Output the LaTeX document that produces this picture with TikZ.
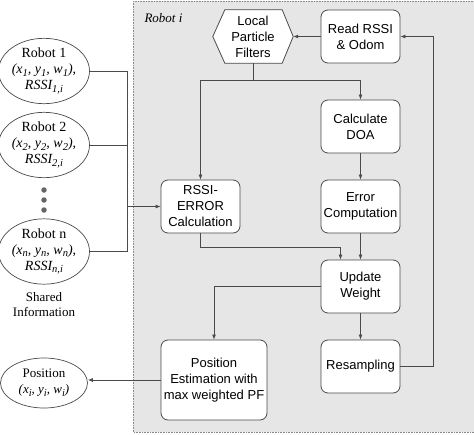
\documentclass[tikz,border=0pt]{standalone}
\usepackage{fontspec}
\setmainfont{Liberation Serif}
\newfontfamily\boxfont{Liberation Sans}
\usetikzlibrary{shapes.geometric,arrows.meta,calc}
\definecolor{panelfill}{HTML}{E6E6E6}
\definecolor{panelline}{HTML}{8A8A8A}
\definecolor{lineclr}{HTML}{4A4A4A}
\newcommand\mysb[1]{\raisebox{-0.45ex}{\fontsize{10.5}{10.5}\selectfont #1}}
\tikzset{
  stepbox/.style={draw=lineclr, fill=white, rounded corners=7pt, line width=0.8pt,
    minimum width=79pt, minimum height=53pt, align=center, inner sep=1pt,
    font=\boxfont\fontsize{13}{16}\selectfont},
  robotell/.style={draw=lineclr, fill=white, ellipse, line width=0.7pt, inner sep=0pt,
    minimum width=87pt, align=center, font=\fontsize{14}{16}\selectfont},
  conn/.style={draw=lineclr, line width=0.8pt},
  arr/.style={conn, -{Latex[length=5pt,width=4pt]}},
}
\begin{document}
\begin{tikzpicture}[x=1pt,y=-1pt]
\useasboundingbox (0,0) rectangle (474,434);
% panel
\draw[panelline, densely dotted, fill=panelfill, line width=0.6pt] (133,1) rectangle (476,432);
\node[anchor=west, font=\itshape\fontsize{13}{15}\selectfont] (lbl) at (141,18) {Robot i};

% hexagon
\node[minimum width=80pt, minimum height=53pt, inner sep=0pt, align=center,
      font=\boxfont\fontsize{13}{16}\selectfont] (lpf) at (253,36.5) {Local\\Particle\\Filters};
\draw[draw=lineclr, fill=white, line width=0.8pt]
  (lpf.west) -- ($(lpf.north west)+(12,0)$) -- ($(lpf.north east)+(-11,0)$) -- (lpf.east)
  -- ($(lpf.south east)+(-11,0)$) -- ($(lpf.south west)+(12,0)$) -- cycle;
\node[align=center, font=\boxfont\fontsize{13}{16}\selectfont] at (lpf) {Local\\Particle\\Filters};

\node[stepbox] (rd) at (360.5,36.5) {Read RSSI\\\& Odom};
\node[stepbox] (doa) at (360.5,126.5) {Calculate\\DOA};
\node[stepbox] (err) at (360.5,206.5) {Error\\Computation};
\node[stepbox] (rssi) at (200.5,206.5) {RSSI-\\ERROR\\Calculation};
\node[stepbox] (upd) at (360.5,286.5) {Update\\Weight};
\node[stepbox] (res) at (360.5,366.5) {Resampling};
\node[stepbox, minimum width=106pt, minimum height=80pt] (pos) at (214,380) {Position\\Estimation with\\max weighted PF};

% left ellipses
\node[robotell, minimum height=57pt] (r1) at (44,71) {Robot 1\\\textit{(x\mysb{1}, y\mysb{1}, w\mysb{1}),}\\\textit{RSSI\mysb{1,i}}};
\node[robotell, minimum height=57pt] (r2) at (44,145) {Robot 2\\\textit{(x\mysb{2}, y\mysb{2}, w\mysb{2}),}\\\textit{RSSI\mysb{2,i}}};
\node[robotell, minimum height=62pt] (rn) at (44,251.5) {Robot n\\\textit{(x\mysb{n}, y\mysb{n}, w\mysb{n}),}\\\textit{RSSI\mysb{n,i}}};
\node[robotell, minimum height=50pt, font=\fontsize{13}{16}\selectfont] (pe) at (44,383) {Position\\\textit{(x\mysb{i}, y\mysb{i}, w\mysb{i})}};
\node[align=center, font=\fontsize{13}{15}\selectfont] (shared) at (44,304.5) {Shared\\Information};
\foreach \yy/\nm in {190/d1,200/d2,210/d3}
  \node[circle, fill=lineclr!85, inner sep=0pt, minimum size=5.5pt] (\nm) at (44,\yy) {};

% connectors inside
\draw[arr] (rd.west) -- (lpf.east);
\draw[conn] (lpf.south) -- ++(0,17) coordinate (j1);
\draw[arr] (j1) -| (doa.north);
\draw[arr] (j1) -| (rssi.north);
\draw[arr] (doa.south) -- (err.north);
\draw[arr] (err.south) -- (upd.north);
\coordinate (updin) at ($(upd.north)+(-20,0)$);
\draw[arr] (rssi.south) -- ++(0,14) -| (updin);
\draw[arr] (upd.west) -| (pos.north);
\draw[arr] (upd.south) -- (res.north);
\draw[arr] (res.east) -- ++(33,0) |- (rd.east);

% left connectors
\coordinate (bus) at (127,0);
\draw[conn] (r1.east) -- (r1.east -| bus) -- (rn.east -| bus) -- (rn.east);
\draw[conn] (r2.east) -- (r2.east -| bus);
\draw[arr] (rssi.west -| bus) -- (rssi.west);
\draw[arr] (pos.west) -- (pos.west -| pe.east);
\end{tikzpicture}
\end{document}
